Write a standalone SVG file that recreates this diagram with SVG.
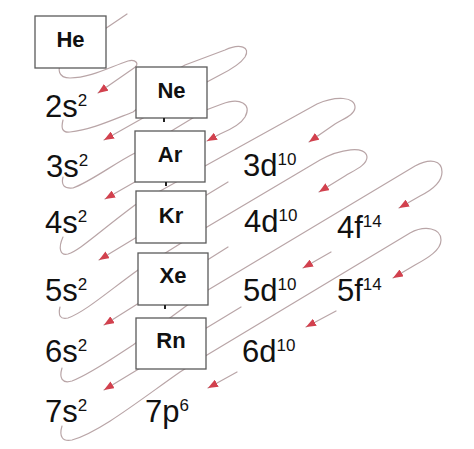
<svg xmlns="http://www.w3.org/2000/svg" width="474" height="449" viewBox="0 0 474 449">
<style>
.ln{fill:none;stroke:#b9a5a7;stroke-width:1.2;stroke-linecap:round;stroke-linejoin:round}
.ar{marker-end:url(#ah)}
.box{fill:#fff;stroke:#5a5a5a;stroke-width:1.3}
.el{font-family:"Liberation Sans",Arial,sans-serif;font-weight:bold;font-size:22px;fill:#111;text-anchor:middle}
.lbl{font-family:"Liberation Sans",Arial,sans-serif;font-size:31px;fill:#111}
.sup{font-size:17px}
.tick{fill:#222}
</style>
<defs>
<marker id="ah" markerUnits="userSpaceOnUse" markerWidth="11" markerHeight="8" refX="10" refY="4" orient="auto">
<path d="M0,0 L10,4 L0,8 Z" fill="#d2414e"/>
</marker>
</defs>
<rect width="474" height="449" fill="#fff"/>
<g id="connectors">
<path class="ln ar" d="M127,14 L62,58 C57,70 58,78 70,78 C90,78 110,67 128,61 C136,59 140,64 134,68 L98,93"/>
<path class="ln ar" d="M63,120 C61,128 62,133 70,132 C90,130 110,121 133,112 C150,100 165,75 185,65 L225,50 C240,43 251,47 245,57 C241,63 232,69 220,75 L205,83 L104,140"/>
<path class="ln ar" d="M63,177 C61,185 64,189 73,188 C90,182 115,163 135,153 L206,110 L222,104 C240,97 252,104 245,117 C241,124 232,129 220,134 L207,141"/>
<path class="ln ar" d="M205,142 L105,199"/>
<path class="ln ar" d="M63,237 C58,248 60,256 68,254 C80,250 95,235 135,205 L205,166 L317,104 C335,96 356,96 355,108 C354,115 345,118 335,124 L309,142"/>
<path class="ln ar" d="M228,182 L99,260"/>
<path class="ln ar" d="M60,307 C58,315 60,320 68,318 C85,312 110,290 138,270 L207,227 L320,160 C340,149 366,145 367,157 C367,165 355,170 345,176 L319,192"/>
<path class="ln ar" d="M228,247 L104,325"/>
<path class="ln ar" d="M62,368 C59,378 62,384 72,381 C90,374 110,360 133,345 L208,290 L415,166 C430,158 442,160 442,172 C442,182 432,190 420,196 L399,208"/>
<path class="ln ar" d="M331,252 L303,268"/>
<path class="ln ar" d="M241,307 L104,390"/>
<path class="ln ar" d="M62,426 C59,436 62,442 72,440 C100,432 140,400 180,372 L207,355 L410,233 C425,225 441,228 441,240 C441,250 428,258 415,265 L393,278"/>
<path class="ln ar" d="M336,311 L306,327"/>
<path class="ln ar" d="M237,372 L208,388"/>
</g>
<g id="node-He"><rect class="box" x="35" y="16" width="71" height="52"/><text class="el" x="70.5" y="47">He</text></g>
<g id="node-Ne"><rect class="box" x="136" y="67" width="71" height="51"/><text class="el" x="171.5" y="98">Ne</text></g>
<g id="node-Ar"><rect class="box" x="135" y="131" width="70" height="51"/><text class="el" x="170" y="162">Ar</text></g>
<g id="node-Kr"><rect class="box" x="136" y="191" width="70" height="52"/><text class="el" x="171" y="223">Kr</text></g>
<g id="node-Xe"><rect class="box" x="138" y="253" width="70" height="52"/><text class="el" x="173" y="283">Xe</text></g>
<g id="node-Rn"><rect class="box" x="136" y="318" width="70" height="51"/><text class="el" x="171" y="348">Rn</text></g>
<g id="ticks">
<rect class="tick" x="163" y="118" width="2" height="4"/>
<rect class="tick" x="165" y="182" width="2" height="4"/>
<rect class="tick" x="164" y="305" width="2" height="4"/>
</g>
<g id="orbitals">
<text class="lbl" x="45" y="117">2s<tspan class="sup" dy="-11">2</tspan></text>
<text class="lbl" x="46" y="177">3s<tspan class="sup" dy="-11">2</tspan></text>
<text class="lbl" x="45" y="233">4s<tspan class="sup" dy="-11">2</tspan></text>
<text class="lbl" x="45" y="301">5s<tspan class="sup" dy="-11">2</tspan></text>
<text class="lbl" x="45" y="362">6s<tspan class="sup" dy="-11">2</tspan></text>
<text class="lbl" x="45" y="422">7s<tspan class="sup" dy="-11">2</tspan></text>
<text class="lbl" x="145" y="422">7p<tspan class="sup" dy="-11">6</tspan></text>
<text class="lbl" x="243" y="176">3d<tspan class="sup" dy="-11">10</tspan></text>
<text class="lbl" x="244" y="232">4d<tspan class="sup" dy="-11">10</tspan></text>
<text class="lbl" x="337" y="238">4f<tspan class="sup" dy="-11">14</tspan></text>
<text class="lbl" x="243" y="301">5d<tspan class="sup" dy="-11">10</tspan></text>
<text class="lbl" x="337" y="301">5f<tspan class="sup" dy="-11">14</tspan></text>
<text class="lbl" x="242" y="362">6d<tspan class="sup" dy="-11">10</tspan></text>
</g>
</svg>
